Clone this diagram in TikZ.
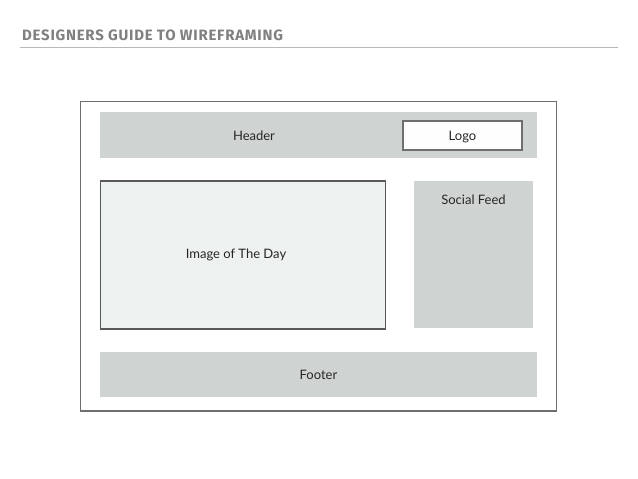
\documentclass[tikz,border=0pt]{standalone}
\usepackage{fontspec}
\setmainfont{Lato}
\newfontfamily\titlefont[LetterSpace=5]{Fira Sans}
\definecolor{panel}{HTML}{CFD4D3}
\definecolor{imgfill}{HTML}{EDF1EF}
\definecolor{edge}{HTML}{6E6E6E}
\definecolor{titlegray}{HTML}{808080}
\definecolor{rulegray}{HTML}{B8B8B8}
\tikzset{
  panelbox/.style={fill=panel, draw=none},
  lbl/.style={font=\fontsize{13}{15}\selectfont, text=black!85},
}
\begin{document}
\begin{tikzpicture}[x=1pt,y=-1pt]
\useasboundingbox (0,0) rectangle (638,479);
\node[anchor=base west, inner sep=0, text=titlegray, font=\titlefont\fontsize{15}{17}\selectfont\bfseries] (title) at (22,40.5) {DESIGNERS GUIDE TO WIREFRAMING};
\coordinate (rl) at (20,47.5);
\coordinate (rr) at (618,47.5);
\draw[rulegray, line width=1.5pt] (rl) -- (rr);
% outer frame
\draw[edge, line width=1.5pt, fill=white] (80.5,101.5) rectangle (556.5,411);
% header
\fill[panelbox] (100,112) rectangle (537,158);
\node[lbl] (header) at (254,135.5) {Header};
\node[draw=edge, line width=1.2pt, fill=white!97!panel, minimum width=119pt, minimum height=29pt, inner sep=0] (logo) at (462.5,135.5) {};
\node[lbl, anchor=base] at ([yshift=-4.5pt]logo.center) {Logo};
% image
\draw[draw=black!65, line width=1.2pt, fill=imgfill] (100.5,181) rectangle (385.5,329);
\node[lbl] (image) at (236,255) {Image of The Day};
% social feed
\fill[panelbox] (414,181) rectangle (533,328);
\node[lbl] (social) at (473.5,200) {Social Feed};
% footer
\fill[panelbox] (100,352) rectangle (537,397);
\node[lbl] (footer) at (318.5,375) {Footer};
\end{tikzpicture}
\end{document}
